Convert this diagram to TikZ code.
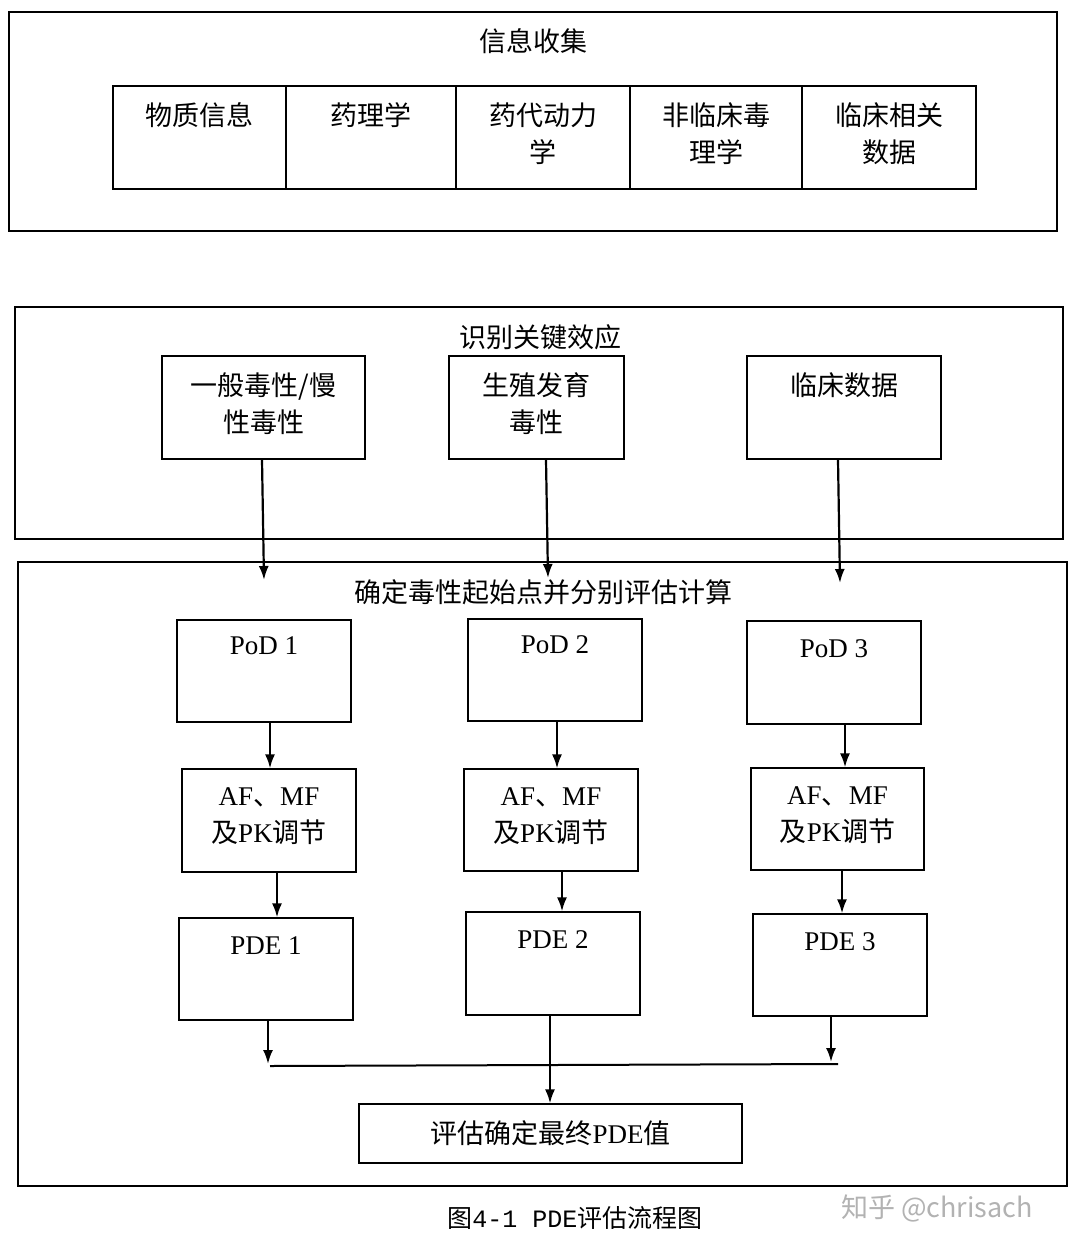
\documentclass[tikz,border=0pt]{standalone}
\usepackage{fontspec}
\setmainfont{Liberation Serif}
\newfontfamily\cjk{Noto Sans CJK SC}
\newfontfamily\capfont{Liberation Mono}
\usetikzlibrary{positioning,fit,arrows.meta}
\begin{document}
\begin{tikzpicture}[x=1pt,y=-1pt,
box/.style={draw=black, line width=1.2pt, inner sep=0pt},
lbl/.style={font=\fontsize{27}{37}\selectfont, align=center, inner sep=0pt, anchor=north},
arr/.style={-{Latex[length=14pt,width=10pt]}, line width=2.2pt}
]
\useasboundingbox (0,0) rectangle (1080,1251);

% information collection
\node[box, fit={(9,12) (1057,231)}] (info) {};
\node[lbl] at (533,28) {\cjk 信息收集};
\node[box, fit={(113,86) (286,189)}] (c1) {};
\node[box, fit={(286,86) (456,189)}] (c2) {};
\node[box, fit={(456,86) (630,189)}] (c3) {};
\node[box, fit={(630,86) (802,189)}] (c4) {};
\node[box, fit={(802,86) (976,189)}] (c5) {};
\node[lbl, below=17pt of c1.north] {\cjk 物质信息};
\node[lbl, below=17pt of c2.north] {\cjk 药理学};
\node[lbl, below=17pt of c3.north] {\cjk 药代动力\\\cjk 学};
\node[lbl, below=17pt of c4.north] {\cjk 非临床毒\\\cjk 理学};
\node[lbl, below=17pt of c5.north] {\cjk 临床相关\\\cjk 数据};

% key effects
\node[box, fit={(15,307) (1063,539)}] (key) {};
\node[lbl] at (540,324) {\cjk 识别关键效应};
\node[box, fit={(162,356) (365,459)}] (e1) {};
\node[box, fit={(449,356) (624,459)}] (e2) {};
\node[box, fit={(747,356) (941,459)}] (e3) {};
\node[lbl, below=17pt of e1.north] {\cjk 一般毒性/慢\\\cjk 性毒性};
\node[lbl, below=17pt of e2.north] {\cjk 生殖发育\\\cjk 毒性};
\node[lbl, below=17pt of e3.north] {\cjk 临床数据};

% PoD and PDE
\node[box, fit={(18,562) (1067,1186)}] (calc) {};
\node[lbl] (calct) at (543,579) {\cjk 确定毒性起始点并分别评估计算};
\node[box, fit={(177,620) (351,722)}] (pod1) {};
\node[box, fit={(468,619) (642,721)}] (pod2) {};
\node[box, fit={(747,621) (921,724)}] (pod3) {};
\node[lbl, below=17pt of pod1.north] {PoD 1};
\node[lbl, below=17pt of pod2.north] {PoD 2};
\node[lbl, below=19pt of pod3.north] {PoD 3};
\node[box, fit={(182,769) (356,872)}] (af1) {};
\node[box, fit={(464,769) (638,871)}] (af2) {};
\node[box, fit={(751,768) (924,870)}] (af3) {};
\node[lbl, below=19pt of af1.north] {AF{\cjk 、}MF\\{\cjk 及}PK{\cjk 调节}};
\node[lbl, below=19pt of af2.north] {AF{\cjk 、}MF\\{\cjk 及}PK{\cjk 调节}};
\node[lbl, below=19pt of af3.north] {AF{\cjk 、}MF\\{\cjk 及}PK{\cjk 调节}};
\node[box, fit={(179,918) (353,1020)}] (pde1) {};
\node[box, fit={(466,912) (640,1015)}] (pde2) {};
\node[box, fit={(753,914) (927,1016)}] (pde3) {};
\node[lbl, below=19pt of pde1.north] {PDE 1};
\node[lbl, below=19pt of pde2.north] {PDE 2};
\node[lbl, below=19pt of pde3.north] {PDE 3};
\node[box, fit={(359,1104) (742,1163)}] (final) {};
\node[lbl] at (final) [anchor=center] {{\cjk 评估确定最终}PDE{\cjk 值}};
\coordinate (jl) at (270,1066);
\coordinate (jr) at (838,1064);

\draw[arr] (e1.south -| 262,0) -- (264,580);
\draw[arr] (e2.south -| 546,0) -- (548,578);
\draw[arr] (e3.south -| 838,0) -- (840,583);
\draw[arr] (pod1.south -| 270,0) -- (af1.north -| 270,0);
\draw[arr] (pod2.south -| 557,0) -- (af2.north -| 557,0);
\draw[arr] (pod3.south -| 845,0) -- (af3.north -| 845,0);
\draw[arr] (af1.south -| 277,0) -- (pde1.north -| 277,0);
\draw[arr] (af2.south -| 562,0) -- (pde2.north -| 562,0);
\draw[arr] (af3.south -| 842,0) -- (pde3.north -| 842,0);
\draw[arr] (pde1.south -| 268,0) -- (268,1064);
\draw[arr] (pde3.south -| 831,0) -- (831,1062);
\draw[line width=2pt] (jl) -- (jr);
\draw[arr] (pde2.south -| 550,0) -- (final.north -| 550,0);

\node[font=\fontsize{25}{30}\selectfont, anchor=center] (cap) at (575,1218) {{\cjk 图}{\capfont 4-1 PDE}{\cjk 评估流程图}};
\node[font=\cjk\fontsize{27}{30}\selectfont, text=gray!60, anchor=center] (wm) at (937,1208) {知乎 @chrisach};
\end{tikzpicture}
\end{document}
